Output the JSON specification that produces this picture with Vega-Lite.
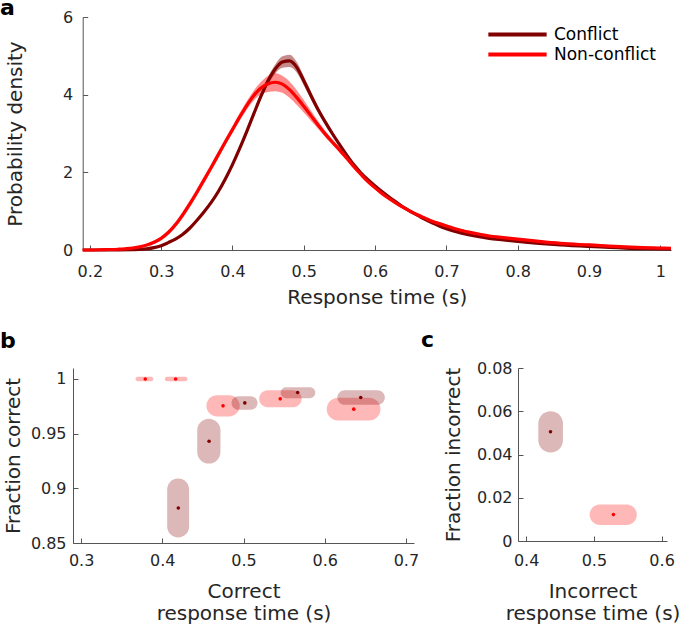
{
  "$schema": "https://vega.github.io/schema/vega-lite/v6.json",
  "padding": {"left": 0, "top": -3, "right": 0, "bottom": 0},
  "config": {
    "font": "DejaVu Sans",
    "view": {"stroke": null},
    "axis": {
      "grid": false,
      "domainColor": "#555555",
      "domainWidth": 1,
      "tickColor": "#555555",
      "tickSize": -5,
      "labelColor": "#262626",
      "labelFontSize": 16,
      "titleColor": "#262626",
      "titleFontSize": 20,
      "titleFontWeight": "normal"
    },
    "title": {"fontSize": 22, "fontWeight": "bold", "color": "#000000", "anchor": "start", "frame": "group"}
  },
  "resolve": {"scale": {"color": "independent"}, "legend": {"color": "independent"}},
  "datasets": {
    "density": [
      {"group": "Conflict", "t": 0.19, "d": 0, "lo": 0, "hi": 0.01},
      {"group": "Conflict", "t": 0.2, "d": 0, "lo": 0, "hi": 0.01},
      {"group": "Conflict", "t": 0.22, "d": 0, "lo": 0, "hi": 0.01},
      {"group": "Conflict", "t": 0.24, "d": 0.005, "lo": 0, "hi": 0.01},
      {"group": "Conflict", "t": 0.26, "d": 0.01, "lo": 0.005, "hi": 0.015},
      {"group": "Conflict", "t": 0.27, "d": 0.015, "lo": 0.01, "hi": 0.02},
      {"group": "Conflict", "t": 0.28, "d": 0.03, "lo": 0.02, "hi": 0.04},
      {"group": "Conflict", "t": 0.29, "d": 0.06, "lo": 0.045, "hi": 0.075},
      {"group": "Conflict", "t": 0.3, "d": 0.11, "lo": 0.09, "hi": 0.13},
      {"group": "Conflict", "t": 0.31, "d": 0.19, "lo": 0.16, "hi": 0.22},
      {"group": "Conflict", "t": 0.32, "d": 0.28, "lo": 0.25, "hi": 0.31},
      {"group": "Conflict", "t": 0.33, "d": 0.4, "lo": 0.37, "hi": 0.43},
      {"group": "Conflict", "t": 0.34, "d": 0.56, "lo": 0.53, "hi": 0.59},
      {"group": "Conflict", "t": 0.35, "d": 0.76, "lo": 0.73, "hi": 0.79},
      {"group": "Conflict", "t": 0.36, "d": 0.98, "lo": 0.95, "hi": 1.01},
      {"group": "Conflict", "t": 0.37, "d": 1.22, "lo": 1.19, "hi": 1.25},
      {"group": "Conflict", "t": 0.38, "d": 1.5, "lo": 1.46, "hi": 1.54},
      {"group": "Conflict", "t": 0.39, "d": 1.83, "lo": 1.79, "hi": 1.87},
      {"group": "Conflict", "t": 0.4, "d": 2.2, "lo": 2.16, "hi": 2.24},
      {"group": "Conflict", "t": 0.41, "d": 2.61, "lo": 2.57, "hi": 2.65},
      {"group": "Conflict", "t": 0.42, "d": 3.05, "lo": 3.0, "hi": 3.1},
      {"group": "Conflict", "t": 0.43, "d": 3.51, "lo": 3.45, "hi": 3.57},
      {"group": "Conflict", "t": 0.44, "d": 3.96, "lo": 3.88, "hi": 4.04},
      {"group": "Conflict", "t": 0.45, "d": 4.36, "lo": 4.26, "hi": 4.46},
      {"group": "Conflict", "t": 0.46, "d": 4.66, "lo": 4.54, "hi": 4.78},
      {"group": "Conflict", "t": 0.47, "d": 4.84, "lo": 4.69, "hi": 4.99},
      {"group": "Conflict", "t": 0.48, "d": 4.87, "lo": 4.71, "hi": 5.03},
      {"group": "Conflict", "t": 0.49, "d": 4.71, "lo": 4.57, "hi": 4.85},
      {"group": "Conflict", "t": 0.5, "d": 4.36, "lo": 4.24, "hi": 4.48},
      {"group": "Conflict", "t": 0.51, "d": 3.98, "lo": 3.88, "hi": 4.08},
      {"group": "Conflict", "t": 0.52, "d": 3.62, "lo": 3.54, "hi": 3.7},
      {"group": "Conflict", "t": 0.53, "d": 3.3, "lo": 3.23, "hi": 3.37},
      {"group": "Conflict", "t": 0.54, "d": 3.0, "lo": 2.94, "hi": 3.06},
      {"group": "Conflict", "t": 0.55, "d": 2.72, "lo": 2.67, "hi": 2.77},
      {"group": "Conflict", "t": 0.56, "d": 2.45, "lo": 2.41, "hi": 2.49},
      {"group": "Conflict", "t": 0.57, "d": 2.2, "lo": 2.16, "hi": 2.24},
      {"group": "Conflict", "t": 0.58, "d": 1.99, "lo": 1.96, "hi": 2.02},
      {"group": "Conflict", "t": 0.59, "d": 1.81, "lo": 1.78, "hi": 1.84},
      {"group": "Conflict", "t": 0.6, "d": 1.65, "lo": 1.62, "hi": 1.68},
      {"group": "Conflict", "t": 0.61, "d": 1.5, "lo": 1.47, "hi": 1.53},
      {"group": "Conflict", "t": 0.62, "d": 1.36, "lo": 1.33, "hi": 1.39},
      {"group": "Conflict", "t": 0.63, "d": 1.23, "lo": 1.2, "hi": 1.26},
      {"group": "Conflict", "t": 0.64, "d": 1.1, "lo": 1.07, "hi": 1.13},
      {"group": "Conflict", "t": 0.65, "d": 0.99, "lo": 0.96, "hi": 1.02},
      {"group": "Conflict", "t": 0.66, "d": 0.89, "lo": 0.86, "hi": 0.92},
      {"group": "Conflict", "t": 0.67, "d": 0.79, "lo": 0.76, "hi": 0.82},
      {"group": "Conflict", "t": 0.68, "d": 0.7, "lo": 0.67, "hi": 0.73},
      {"group": "Conflict", "t": 0.69, "d": 0.62, "lo": 0.6, "hi": 0.64},
      {"group": "Conflict", "t": 0.7, "d": 0.55, "lo": 0.53, "hi": 0.57},
      {"group": "Conflict", "t": 0.72, "d": 0.44, "lo": 0.42, "hi": 0.46},
      {"group": "Conflict", "t": 0.74, "d": 0.36, "lo": 0.34, "hi": 0.38},
      {"group": "Conflict", "t": 0.76, "d": 0.3, "lo": 0.28, "hi": 0.32},
      {"group": "Conflict", "t": 0.78, "d": 0.26, "lo": 0.24, "hi": 0.28},
      {"group": "Conflict", "t": 0.8, "d": 0.22, "lo": 0.2, "hi": 0.24},
      {"group": "Conflict", "t": 0.83, "d": 0.17, "lo": 0.155, "hi": 0.185},
      {"group": "Conflict", "t": 0.86, "d": 0.13, "lo": 0.115, "hi": 0.145},
      {"group": "Conflict", "t": 0.9, "d": 0.09, "lo": 0.08, "hi": 0.1},
      {"group": "Conflict", "t": 0.95, "d": 0.05, "lo": 0.04, "hi": 0.06},
      {"group": "Conflict", "t": 1.0, "d": 0.03, "lo": 0.02, "hi": 0.04},
      {"group": "Conflict", "t": 1.015, "d": 0.025, "lo": 0.015, "hi": 0.035},
      {"group": "Non-conflict", "t": 0.19, "d": 0, "lo": 0, "hi": 0.02},
      {"group": "Non-conflict", "t": 0.2, "d": 0, "lo": 0, "hi": 0.02},
      {"group": "Non-conflict", "t": 0.22, "d": 0.01, "lo": 0, "hi": 0.02},
      {"group": "Non-conflict", "t": 0.24, "d": 0.02, "lo": 0.01, "hi": 0.03},
      {"group": "Non-conflict", "t": 0.26, "d": 0.05, "lo": 0.035, "hi": 0.065},
      {"group": "Non-conflict", "t": 0.27, "d": 0.08, "lo": 0.06, "hi": 0.1},
      {"group": "Non-conflict", "t": 0.28, "d": 0.13, "lo": 0.1, "hi": 0.16},
      {"group": "Non-conflict", "t": 0.29, "d": 0.2, "lo": 0.16, "hi": 0.24},
      {"group": "Non-conflict", "t": 0.3, "d": 0.3, "lo": 0.25, "hi": 0.35},
      {"group": "Non-conflict", "t": 0.31, "d": 0.45, "lo": 0.39, "hi": 0.51},
      {"group": "Non-conflict", "t": 0.32, "d": 0.65, "lo": 0.58, "hi": 0.72},
      {"group": "Non-conflict", "t": 0.33, "d": 0.9, "lo": 0.82, "hi": 0.98},
      {"group": "Non-conflict", "t": 0.34, "d": 1.18, "lo": 1.09, "hi": 1.27},
      {"group": "Non-conflict", "t": 0.35, "d": 1.48, "lo": 1.39, "hi": 1.57},
      {"group": "Non-conflict", "t": 0.36, "d": 1.8, "lo": 1.71, "hi": 1.89},
      {"group": "Non-conflict", "t": 0.37, "d": 2.12, "lo": 2.03, "hi": 2.21},
      {"group": "Non-conflict", "t": 0.38, "d": 2.45, "lo": 2.36, "hi": 2.54},
      {"group": "Non-conflict", "t": 0.39, "d": 2.78, "lo": 2.69, "hi": 2.87},
      {"group": "Non-conflict", "t": 0.4, "d": 3.1, "lo": 3.01, "hi": 3.19},
      {"group": "Non-conflict", "t": 0.41, "d": 3.42, "lo": 3.32, "hi": 3.52},
      {"group": "Non-conflict", "t": 0.42, "d": 3.72, "lo": 3.61, "hi": 3.83},
      {"group": "Non-conflict", "t": 0.43, "d": 3.98, "lo": 3.85, "hi": 4.11},
      {"group": "Non-conflict", "t": 0.44, "d": 4.17, "lo": 4.01, "hi": 4.33},
      {"group": "Non-conflict", "t": 0.45, "d": 4.28, "lo": 4.07, "hi": 4.49},
      {"group": "Non-conflict", "t": 0.46, "d": 4.32, "lo": 4.09, "hi": 4.55},
      {"group": "Non-conflict", "t": 0.47, "d": 4.27, "lo": 4.05, "hi": 4.49},
      {"group": "Non-conflict", "t": 0.48, "d": 4.13, "lo": 3.92, "hi": 4.34},
      {"group": "Non-conflict", "t": 0.49, "d": 3.93, "lo": 3.74, "hi": 4.12},
      {"group": "Non-conflict", "t": 0.5, "d": 3.7, "lo": 3.54, "hi": 3.86},
      {"group": "Non-conflict", "t": 0.51, "d": 3.46, "lo": 3.33, "hi": 3.59},
      {"group": "Non-conflict", "t": 0.52, "d": 3.22, "lo": 3.12, "hi": 3.32},
      {"group": "Non-conflict", "t": 0.53, "d": 2.99, "lo": 2.91, "hi": 3.07},
      {"group": "Non-conflict", "t": 0.54, "d": 2.78, "lo": 2.71, "hi": 2.85},
      {"group": "Non-conflict", "t": 0.55, "d": 2.58, "lo": 2.52, "hi": 2.64},
      {"group": "Non-conflict", "t": 0.56, "d": 2.37, "lo": 2.32, "hi": 2.42},
      {"group": "Non-conflict", "t": 0.57, "d": 2.15, "lo": 2.1, "hi": 2.2},
      {"group": "Non-conflict", "t": 0.58, "d": 1.95, "lo": 1.91, "hi": 1.99},
      {"group": "Non-conflict", "t": 0.59, "d": 1.76, "lo": 1.72, "hi": 1.8},
      {"group": "Non-conflict", "t": 0.6, "d": 1.6, "lo": 1.56, "hi": 1.64},
      {"group": "Non-conflict", "t": 0.61, "d": 1.45, "lo": 1.41, "hi": 1.49},
      {"group": "Non-conflict", "t": 0.62, "d": 1.32, "lo": 1.28, "hi": 1.36},
      {"group": "Non-conflict", "t": 0.63, "d": 1.2, "lo": 1.16, "hi": 1.24},
      {"group": "Non-conflict", "t": 0.64, "d": 1.09, "lo": 1.05, "hi": 1.13},
      {"group": "Non-conflict", "t": 0.65, "d": 0.99, "lo": 0.95, "hi": 1.03},
      {"group": "Non-conflict", "t": 0.66, "d": 0.9, "lo": 0.86, "hi": 0.94},
      {"group": "Non-conflict", "t": 0.67, "d": 0.82, "lo": 0.78, "hi": 0.86},
      {"group": "Non-conflict", "t": 0.68, "d": 0.74, "lo": 0.7, "hi": 0.78},
      {"group": "Non-conflict", "t": 0.69, "d": 0.68, "lo": 0.64, "hi": 0.72},
      {"group": "Non-conflict", "t": 0.7, "d": 0.62, "lo": 0.58, "hi": 0.66},
      {"group": "Non-conflict", "t": 0.72, "d": 0.51, "lo": 0.48, "hi": 0.54},
      {"group": "Non-conflict", "t": 0.74, "d": 0.43, "lo": 0.4, "hi": 0.46},
      {"group": "Non-conflict", "t": 0.76, "d": 0.36, "lo": 0.33, "hi": 0.39},
      {"group": "Non-conflict", "t": 0.78, "d": 0.32, "lo": 0.29, "hi": 0.35},
      {"group": "Non-conflict", "t": 0.8, "d": 0.28, "lo": 0.25, "hi": 0.31},
      {"group": "Non-conflict", "t": 0.83, "d": 0.22, "lo": 0.19, "hi": 0.25},
      {"group": "Non-conflict", "t": 0.86, "d": 0.17, "lo": 0.14, "hi": 0.2},
      {"group": "Non-conflict", "t": 0.9, "d": 0.13, "lo": 0.1, "hi": 0.16},
      {"group": "Non-conflict", "t": 0.95, "d": 0.08, "lo": 0.05, "hi": 0.11},
      {"group": "Non-conflict", "t": 1.0, "d": 0.05, "lo": 0.02, "hi": 0.08},
      {"group": "Non-conflict", "t": 1.015, "d": 0.045, "lo": 0.015, "hi": 0.075}
    ],
    "correct": [
      {"group": "Non-conflict", "rt": 0.379, "acc": 1.0, "rt_lo": 0.367, "rt_hi": 0.389, "acc_lo": 0.998, "acc_hi": 1.002},
      {"group": "Non-conflict", "rt": 0.4164, "acc": 1.0, "rt_lo": 0.403, "rt_hi": 0.431, "acc_lo": 0.998, "acc_hi": 1.002},
      {"group": "Non-conflict", "rt": 0.4748, "acc": 0.9754, "rt_lo": 0.4543, "rt_hi": 0.4954, "acc_lo": 0.9657, "acc_hi": 0.9851},
      {"group": "Non-conflict", "rt": 0.5452, "acc": 0.9818, "rt_lo": 0.5193, "rt_hi": 0.5716, "acc_lo": 0.9742, "acc_hi": 0.9897},
      {"group": "Non-conflict", "rt": 0.6358, "acc": 0.9724, "rt_lo": 0.6025, "rt_hi": 0.6687, "acc_lo": 0.9621, "acc_hi": 0.9827},
      {"group": "Conflict", "rt": 0.4197, "acc": 0.882, "rt_lo": 0.406, "rt_hi": 0.433, "acc_lo": 0.855, "acc_hi": 0.909},
      {"group": "Conflict", "rt": 0.4576, "acc": 0.943, "rt_lo": 0.443, "rt_hi": 0.4716, "acc_lo": 0.9226, "acc_hi": 0.9636},
      {"group": "Conflict", "rt": 0.5016, "acc": 0.9781, "rt_lo": 0.4852, "rt_hi": 0.5173, "acc_lo": 0.9718, "acc_hi": 0.9842},
      {"group": "Conflict", "rt": 0.5667, "acc": 0.9876, "rt_lo": 0.5457, "rt_hi": 0.5884, "acc_lo": 0.9824, "acc_hi": 0.9924},
      {"group": "Conflict", "rt": 0.6444, "acc": 0.983, "rt_lo": 0.6156, "rt_hi": 0.6741, "acc_lo": 0.9763, "acc_hi": 0.9897}
    ],
    "incorrect": [
      {"group": "Conflict", "rt": 0.436, "err": 0.0505, "rt_lo": 0.418, "rt_hi": 0.4544, "err_lo": 0.0409, "err_hi": 0.06},
      {"group": "Non-conflict", "rt": 0.5289, "err": 0.0122, "rt_lo": 0.4938, "rt_hi": 0.5634, "err_lo": 0.0074, "err_hi": 0.0169}
    ]
  },
  "spacing": 21,
  "vconcat": [
    {
      "width": 598,
      "height": 233,
      "title": {"text": "a", "dx": -73, "dy": 13, "offset": 2},
      "data": {"name": "density"},
      "encoding": {
        "x": {
          "field": "t",
          "type": "quantitative",
          "title": "Response time (s)",
          "scale": {"domain": [0.19, 1.015], "range": [9.7, 598], "nice": false, "zero": false},
          "axis": {"values": [0.2, 0.3, 0.4, 0.5, 0.6, 0.7, 0.8, 0.9, 1], "format": "~g", "labelPadding": 18, "titlePadding": 8.5}
        },
        "color": {
          "field": "group",
          "type": "nominal",
          "scale": {"domain": ["Conflict", "Non-conflict"], "range": ["#800000", "#ff0000"]},
          "legend": {
            "title": null,
            "orient": "none",
            "legendX": 436,
            "legendY": 9,
            "symbolType": "M-5,0H5",
            "symbolSize": 136,
            "symbolStrokeWidth": 4,
            "symbolOpacity": 1,
            "labelOffset": 28,
            "labelFontSize": 17,
            "labelColor": "#000000",
            "rowPadding": 2
          }
        }
      },
      "layer": [
        {
          "mark": {"type": "area", "opacity": 0.45, "interpolate": "monotone"},
          "encoding": {
            "y": {
              "field": "lo",
              "type": "quantitative",
              "title": "Probability density",
              "scale": {"domain": [0, 6], "nice": false},
              "axis": {"values": [0, 2, 4, 6], "offset": -9.7, "labelPadding": 15, "titlePadding": 37}
            },
            "y2": {"field": "hi"}
          }
        },
        {
          "mark": {"type": "line", "strokeWidth": 3.2, "interpolate": "monotone"},
          "encoding": {
            "y": {"field": "d", "type": "quantitative", "title": "Probability density"}
          }
        }
      ]
    },
    {
      "spacing": 2,
      "hconcat": [
        {
          "width": 341,
          "height": 175,
          "title": {"text": "b", "dx": -73, "offset": 15},
          "data": {"name": "correct"},
          "encoding": {
            "x": {
              "field": "rt",
              "type": "quantitative",
              "title": ["Correct", "response time (s)"],
              "scale": {"domain": [0.29, 0.71], "nice": false, "zero": false},
              "axis": {"values": [0.3, 0.4, 0.5, 0.6, 0.7], "format": "~g", "titleLineHeight": 22, "labelPadding": 14.5, "titlePadding": 13}
            },
            "color": {
              "field": "group",
              "type": "nominal",
              "scale": {"domain": ["Conflict", "Non-conflict"], "range": ["#800000", "#ff0000"]},
              "legend": null
            }
          },
          "layer": [
            {
              "mark": {"type": "rect", "cornerRadius": 1000, "opacity": 0.28},
              "encoding": {
                "x": {"field": "rt_lo", "type": "quantitative"},
                "x2": {"field": "rt_hi"},
                "y": {
                  "field": "acc_lo",
                  "type": "quantitative",
                  "title": "Fraction correct",
                  "scale": {"domain": [0.85, 1.01], "nice": false, "zero": false},
                  "axis": {"values": [0.85, 0.9, 0.95, 1], "format": "~g", "labelPadding": 12, "titlePadding": 7}
                },
                "y2": {"field": "acc_hi"}
              }
            },
            {
              "mark": {"type": "point", "filled": true, "size": 13, "opacity": 1},
              "encoding": {
                "y": {"field": "acc", "type": "quantitative", "title": "Fraction correct"}
              }
            }
          ]
        },
        {
          "width": 149,
          "height": 173,
          "title": {"text": "c", "dx": -97, "offset": 7.6},
          "data": {"name": "incorrect"},
          "encoding": {
            "x": {
              "field": "rt",
              "type": "quantitative",
              "title": ["Incorrect", "response time (s)"],
              "scale": {"domain": [0.388, 0.608], "nice": false, "zero": false},
              "axis": {"values": [0.4, 0.5, 0.6], "format": "~g", "titleLineHeight": 22, "labelPadding": 16, "titlePadding": 13}
            },
            "color": {
              "field": "group",
              "type": "nominal",
              "scale": {"domain": ["Conflict", "Non-conflict"], "range": ["#800000", "#ff0000"]},
              "legend": null
            }
          },
          "layer": [
            {
              "mark": {"type": "rect", "cornerRadius": 1000, "opacity": 0.28},
              "encoding": {
                "x": {"field": "rt_lo", "type": "quantitative"},
                "x2": {"field": "rt_hi"},
                "y": {
                  "field": "err_lo",
                  "type": "quantitative",
                  "title": "Fraction incorrect",
                  "scale": {"domain": [0, 0.08], "nice": false},
                  "axis": {"values": [0, 0.02, 0.04, 0.06, 0.08], "format": "~g", "labelPadding": 11, "titlePadding": 13}
                },
                "y2": {"field": "err_hi"}
              }
            },
            {
              "mark": {"type": "point", "filled": true, "size": 13, "opacity": 1},
              "encoding": {
                "y": {"field": "err", "type": "quantitative", "title": "Fraction incorrect"}
              }
            }
          ]
        }
      ]
    }
  ]
}
